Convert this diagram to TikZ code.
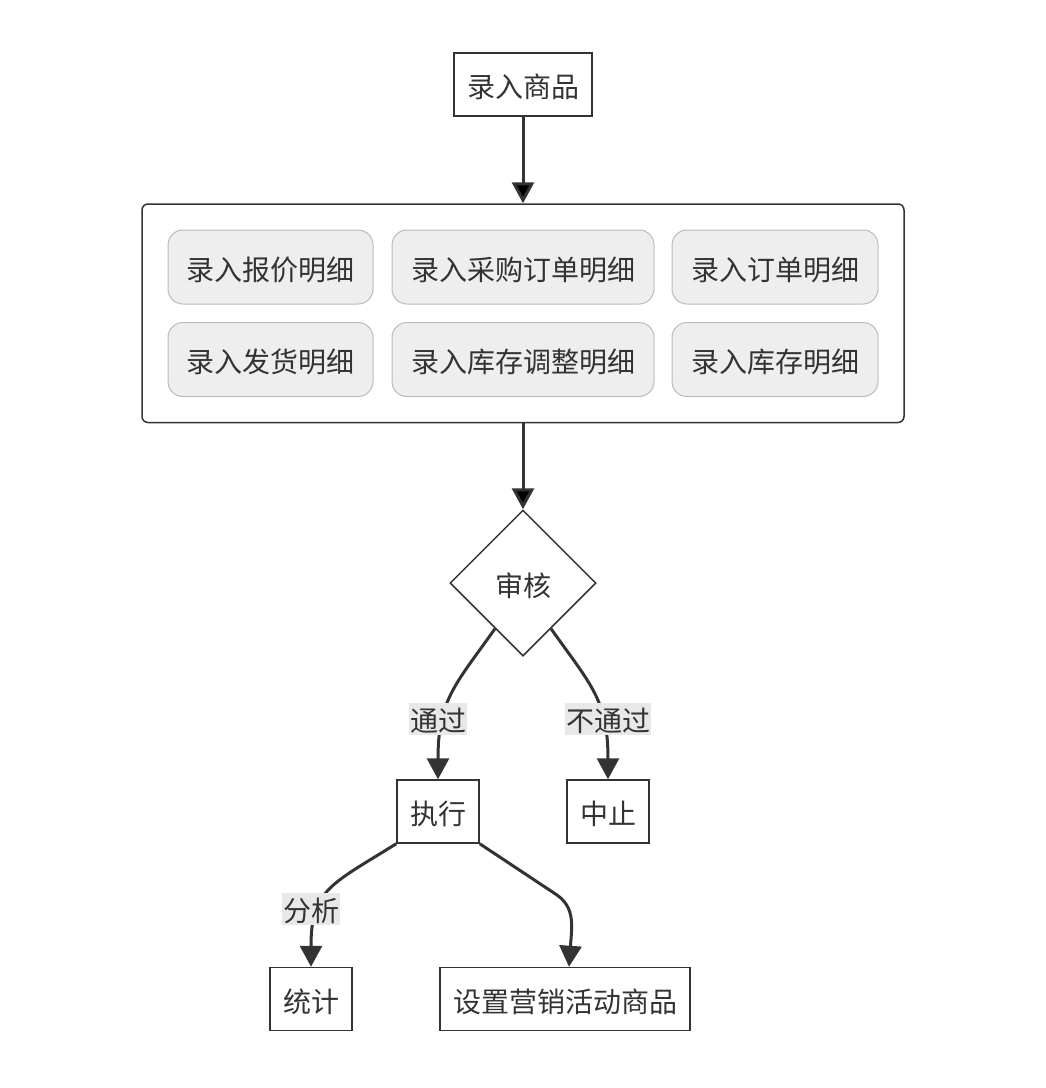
\documentclass[tikz,border=0pt]{standalone}
\usepackage{fontspec}
\setmainfont{Noto Sans CJK SC}
\usetikzlibrary{positioning,shapes.geometric,fit,arrows.meta,calc}
\definecolor{ink}{HTML}{333333}
\definecolor{subfill}{HTML}{EEEEEE}
\definecolor{subline}{HTML}{BBBBBB}
\definecolor{lblfill}{HTML}{E8E8E8}
\begin{document}
\begin{tikzpicture}[x=1pt,y=-1pt,on grid,
  font=\fontsize{28pt}{33pt}\selectfont,text=ink,
  box/.style={draw=ink,line width=1.5pt,minimum height=63pt,inner sep=0pt,text height=26pt,text depth=0pt},
  sub/.style={draw=subline,fill=subfill,line width=1pt,rounded corners=15pt,minimum height=74pt,inner sep=0pt,text height=26pt,text depth=0pt},
  flow/.style={draw=ink,line width=3pt,-{Triangle[length=21pt,width=22pt]}},
  lbl/.style={fill=lblfill,inner sep=1pt,text height=27pt,text depth=3pt}]
  \useasboundingbox (0,0) rectangle (1046,1088);
  \node[box,minimum width=138pt]  (lrsp) at (523,84.5)	{录入商品};
  % the six sub steps
  \node[sub,minimum width=262pt]  (cgdd) at (523,267)	{录入采购订单明细};
  \node[sub,minimum width=205pt]  (bjmx) [left=252.5pt of cgdd]	{录入报价明细};
  \node[sub,minimum width=206pt]  (ddmx) [right=252pt of cgdd]	{录入订单明细};
  \node[sub,minimum width=262pt]  (kctz) [below=92.5pt of cgdd]	{录入库存调整明细};
  \node[sub,minimum width=205pt]  (fhmx) [below=92.5pt of bjmx]	{录入发货明细};
  \node[sub,minimum width=206pt]  (kcmx) [below=92.5pt of ddmx]	{录入库存明细};
  \node[draw=ink,line width=1.5pt,rounded corners=6pt,inner sep=25.5pt,fit=(bjmx)(ddmx)(fhmx)(kcmx)] (lrmx) {};
  \node[diamond,draw=ink,line width=1.5pt,inner sep=0pt,minimum width=146pt,minimum height=146pt,text height=26pt,text depth=0pt] (shen) at (523,583) {审核};
  \node[box,minimum width=82pt]   (zhix) at (438,811.5)	{执行};
  \node[box,minimum width=82pt]   (zhzh) at (608,811.5)	{中止};
  \node[box,minimum width=82pt]   (tjtj) at (311,999)	{统计};
  \node[box,minimum width=250pt]  (szhd) at (565,999)	{设置营销活动商品};
  \path[flow]
   (lrsp) edge (lrmx)
   (lrmx) edge (shen);
  \draw[flow] ($(shen.west)!0.62!(shen.south)$) .. controls (455,685) and (438,700) .. (zhix.north)
   node[lbl] at (438,719) {通过};
  \draw[flow] ($(shen.east)!0.62!(shen.south)$) .. controls (591,685) and (608,700) .. (zhzh.north)
   node[lbl] at (608,719) {不通过};
  \draw[flow] (zhix.south west) .. controls (330,885) and (311,890) .. (tjtj.north)
   node[lbl] at (311,909) {分析};
  \draw[flow] (zhix.south east) -- (557,895) .. controls (575,908) and (572,925) .. ([xshift=4pt]szhd.north);
\end{tikzpicture}
\end{document}
